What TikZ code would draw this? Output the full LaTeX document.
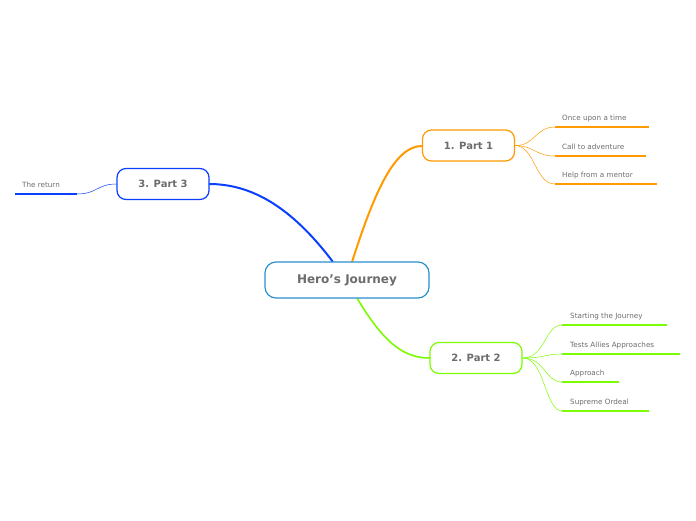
\documentclass[tikz,border=0pt]{standalone}
\usepackage{fontspec}
\setmainfont{DejaVu Sans}
\begin{document}
\begin{tikzpicture}[x=1pt,y=-1pt,
  topic/.style={draw=#1,line width=1.2pt,rounded corners=9pt,fill=white,text=gray!85!black,font=\fontsize{10}{12}\selectfont\bfseries,minimum width=92pt,minimum height=31pt},
  leaf/.style={text=gray!85!black,font=\fontsize{7.2}{9}\selectfont,anchor=base west,inner sep=0pt}]
\definecolor{cor}{HTML}{FF9A00}
\definecolor{cgr}{HTML}{7CFC00}
\definecolor{cbl}{HTML}{0A3FFF}
\definecolor{cce}{HTML}{2A8FD0}
\useasboundingbox (0,0) rectangle (696,520);
% connectors centre
\coordinate (c1) at (352,262);
\coordinate (c3) at (333,262);
\coordinate (c2) at (357,298);
\draw[cor,line width=2pt] (c1) .. controls (375,190) and (395,146) .. (422,146);
\draw[cbl,line width=2pt] (c3) .. controls (290,205) and (250,184) .. (209,184);
\draw[cgr,line width=1.6pt] (c2) .. controls (385,345) and (405,358) .. (430,358);
\node[draw=cce,line width=1.2pt,rounded corners=11pt,minimum width=164pt,minimum height=36pt,fill=white,text=gray!85!black,font=\fontsize{12}{14}\selectfont\bfseries] (c) at (347,280) {Hero's Journey};
\node[topic=cor] (p1) at (468.5,145.5) {1. Part 1};
\node[topic=cgr] (p2) at (476,358) {2. Part 2};
\node[topic=cbl] (p3) at (163,184) {3. Part 3};
% part1 leaves
\foreach \y/\x/\t [count=\i] in {127/649/Once upon a time,156/646/Call to adventure,184/657/Help from a mentor}{
  \coordinate (a\i) at (555,\y); \coordinate (ae\i) at (\x,\y);
  \draw[cor,line width=0.5pt] (p1.east) .. controls (535,146) and (535,\y) .. (a\i);
  \draw[cor,line width=2pt] (a\i) -- (ae\i);
  \node[leaf] at (562,\y-7) {\t};
}
\foreach \y/\x/\t [count=\i] in {325/667/Starting the Journey,354/680/Tests Allies Approaches,382/619/Approach,411/649/Supreme Ordeal}{
  \coordinate (b\i) at (562,\y); \coordinate (be\i) at (\x,\y);
  \draw[cgr,line width=0.5pt] (p2.east) .. controls (545,358) and (545,\y) .. (b\i);
  \draw[cgr,line width=2pt] (b\i) -- (be\i);
  \node[leaf] at (570,\y-7) {\t};
}
\coordinate (r1) at (77,194); \coordinate (re1) at (15,194);
\draw[cbl,line width=0.5pt] (p3.west) .. controls (97,184) and (97,194) .. (r1);
\draw[cbl,line width=2pt] (r1) -- (re1);
\node[leaf] at (22,187) {The return};
\end{tikzpicture}
\end{document}
